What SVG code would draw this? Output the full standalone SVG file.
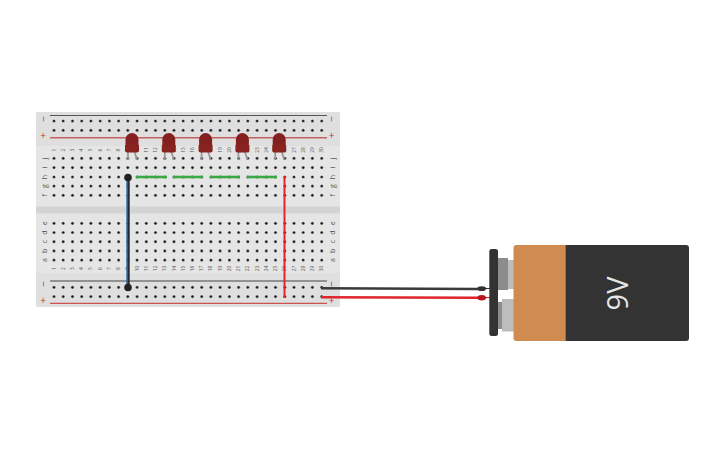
<svg xmlns="http://www.w3.org/2000/svg" xmlns:xlink="http://www.w3.org/1999/xlink" width="725" height="453" viewBox="0 0 725 453">
<style>
.lb{font-family:"Open Sans","Noto Sans",sans-serif;fill:#555;text-anchor:middle}
.n{font-size:4.8px}
.l{font-size:7px}
.s{font-size:10px}
.p{fill:#c9302c}
.h{fill:#222;stroke:#eeeeee;stroke-width:.4}
.leg{stroke:#999;stroke-width:1.8;fill:none}
.body{fill:#84201f}
.flange{fill:#88231f}
.g{stroke:#3aa845;stroke-width:2.6;fill:none}
</style>
<defs>
<g id="row"><circle cx="54" r="1.6"/><circle cx="63.2" r="1.6"/><circle cx="72.5" r="1.6"/><circle cx="81.7" r="1.6"/><circle cx="90.9" r="1.6"/><circle cx="100.2" r="1.6"/><circle cx="109.4" r="1.6"/><circle cx="118.6" r="1.6"/><circle cx="127.8" r="1.6"/><circle cx="137.1" r="1.6"/><circle cx="146.3" r="1.6"/><circle cx="155.5" r="1.6"/><circle cx="164.8" r="1.6"/><circle cx="174" r="1.6"/><circle cx="183.2" r="1.6"/><circle cx="192.5" r="1.6"/><circle cx="201.7" r="1.6"/><circle cx="210.9" r="1.6"/><circle cx="220.1" r="1.6"/><circle cx="229.4" r="1.6"/><circle cx="238.6" r="1.6"/><circle cx="247.8" r="1.6"/><circle cx="257.1" r="1.6"/><circle cx="266.3" r="1.6"/><circle cx="275.5" r="1.6"/><circle cx="284.8" r="1.6"/><circle cx="294" r="1.6"/><circle cx="303.2" r="1.6"/><circle cx="312.4" r="1.6"/><circle cx="321.7" r="1.6"/></g>
<g id="led">
<path class="leg" d="M-4 14V26.500M1 14L5 26.500"/>
<path class="body" d="M-6.500 12V6.500a6.500 6.500 0 0 1 13 0V12z"/>
<path class="flange" d="M-7 12H7V17.500a2 2 0 0 1-2 2H-5a2 2 0 0 1-2-2z"/>
</g>
</defs>
<rect width="725" height="453" fill="#fff"/>
<g id="breadboard">
<rect x="36" y="112" width="304" height="195" rx="2" fill="#e5e5e5"/>
<path d="M36 146V114a2 2 0 0 1 2-2H338a2 2 0 0 1 2 2V146z" fill="#dfdfdf"/>
<path d="M36 273V305a2 2 0 0 0 2 2H338a2 2 0 0 0 2-2V273z" fill="#dfdfdf"/>
<rect x="36" y="206.500" width="304" height="7" fill="#d4d4d4"/>
<path d="M50 115.500H327" stroke="#555" stroke-width="1.200"/>
<path d="M50 137.700H327" stroke="#c76060" stroke-width="1.500"/>
<path d="M50 281H327" stroke="#444" stroke-width="1"/>
<path d="M50 303.300H327" stroke="#c93030" stroke-width="1"/>
<g class="h">
<use xlink:href="#row" href="#row" y="121"/><use xlink:href="#row" href="#row" y="130.300"/>
<use xlink:href="#row" href="#row" y="158.300"/><use xlink:href="#row" href="#row" y="167.600"/><use xlink:href="#row" href="#row" y="177"/><use xlink:href="#row" href="#row" y="186.100"/><use xlink:href="#row" href="#row" y="195.300"/>
<use xlink:href="#row" href="#row" y="223.300"/><use xlink:href="#row" href="#row" y="232.500"/><use xlink:href="#row" href="#row" y="241.700"/><use xlink:href="#row" href="#row" y="250.900"/><use xlink:href="#row" href="#row" y="260.100"/>
<use xlink:href="#row" href="#row" y="287.300"/><use xlink:href="#row" href="#row" y="296.600"/>
</g>
<g class="lb s">
<text transform="translate(46.500,119) rotate(-90)">−</text>
<text x="43" y="138.500" style="fill:#c9302c">+</text>
<text transform="translate(335,119) rotate(-90)">−</text>
<text x="331.500" y="138.500" style="fill:#c9302c">+</text>
<text transform="translate(46.500,284) rotate(-90)">−</text>
<text x="43" y="303.500" style="fill:#c9302c">+</text>
<text transform="translate(335,284) rotate(-90)">−</text>
<text x="331.500" y="303.500" style="fill:#c9302c">+</text>
</g>
<g class="lb l">
<text transform="translate(47,158.300) rotate(-90)">j</text><text transform="translate(47,167.600) rotate(-90)">i</text><text transform="translate(47,177) rotate(-90)">h</text><text transform="translate(47,186.100) rotate(-90)">g</text><text transform="translate(47,195.300) rotate(-90)">f</text>
<text transform="translate(47,223.300) rotate(-90)">e</text><text transform="translate(47,232.500) rotate(-90)">d</text><text transform="translate(47,241.700) rotate(-90)">c</text><text transform="translate(47,250.900) rotate(-90)">b</text><text transform="translate(47,260.100) rotate(-90)">a</text>
<text transform="translate(334.500,158.300) rotate(-90)">j</text><text transform="translate(334.500,167.600) rotate(-90)">i</text><text transform="translate(334.500,177) rotate(-90)">h</text><text transform="translate(334.500,186.100) rotate(-90)">g</text><text transform="translate(334.500,195.300) rotate(-90)">f</text>
<text transform="translate(334.500,223.300) rotate(-90)">e</text><text transform="translate(334.500,232.500) rotate(-90)">d</text><text transform="translate(334.500,241.700) rotate(-90)">c</text><text transform="translate(334.500,250.900) rotate(-90)">b</text><text transform="translate(334.500,260.100) rotate(-90)">a</text>
</g>
<g class="lb n">
<text transform="translate(55.500,150) rotate(-90)">1</text><text transform="translate(64.700,150) rotate(-90)">2</text><text transform="translate(74,150) rotate(-90)">3</text><text transform="translate(83.200,150) rotate(-90)">4</text><text transform="translate(92.400,150) rotate(-90)">5</text><text transform="translate(101.700,150) rotate(-90)">6</text><text transform="translate(110.900,150) rotate(-90)">7</text><text transform="translate(120.100,150) rotate(-90)">8</text><text transform="translate(129.300,150) rotate(-90)">9</text><text transform="translate(138.600,150) rotate(-90)">10</text><text transform="translate(147.800,150) rotate(-90)">11</text><text transform="translate(157,150) rotate(-90)">12</text><text transform="translate(166.300,150) rotate(-90)">13</text><text transform="translate(175.500,150) rotate(-90)">14</text><text transform="translate(184.700,150) rotate(-90)">15</text><text transform="translate(194,150) rotate(-90)">16</text><text transform="translate(203.200,150) rotate(-90)">17</text><text transform="translate(212.400,150) rotate(-90)">18</text><text transform="translate(221.600,150) rotate(-90)">19</text><text transform="translate(230.900,150) rotate(-90)">20</text><text transform="translate(240.100,150) rotate(-90)">21</text><text transform="translate(249.300,150) rotate(-90)">22</text><text transform="translate(258.600,150) rotate(-90)">23</text><text transform="translate(267.800,150) rotate(-90)">24</text><text transform="translate(277,150) rotate(-90)">25</text><text transform="translate(286.300,150) rotate(-90)">26</text><text transform="translate(295.500,150) rotate(-90)">27</text><text transform="translate(304.700,150) rotate(-90)">28</text><text transform="translate(313.900,150) rotate(-90)">29</text><text transform="translate(323.200,150) rotate(-90)">30</text>
<text transform="translate(55.500,268.500) rotate(-90)">1</text><text transform="translate(64.700,268.500) rotate(-90)">2</text><text transform="translate(74,268.500) rotate(-90)">3</text><text transform="translate(83.200,268.500) rotate(-90)">4</text><text transform="translate(92.400,268.500) rotate(-90)">5</text><text transform="translate(101.700,268.500) rotate(-90)">6</text><text transform="translate(110.900,268.500) rotate(-90)">7</text><text transform="translate(120.100,268.500) rotate(-90)">8</text><text transform="translate(129.300,268.500) rotate(-90)">9</text><text transform="translate(138.600,268.500) rotate(-90)">10</text><text transform="translate(147.800,268.500) rotate(-90)">11</text><text transform="translate(157,268.500) rotate(-90)">12</text><text transform="translate(166.300,268.500) rotate(-90)">13</text><text transform="translate(175.500,268.500) rotate(-90)">14</text><text transform="translate(184.700,268.500) rotate(-90)">15</text><text transform="translate(194,268.500) rotate(-90)">16</text><text transform="translate(203.200,268.500) rotate(-90)">17</text><text transform="translate(212.400,268.500) rotate(-90)">18</text><text transform="translate(221.600,268.500) rotate(-90)">19</text><text transform="translate(230.900,268.500) rotate(-90)">20</text><text transform="translate(240.100,268.500) rotate(-90)">21</text><text transform="translate(249.300,268.500) rotate(-90)">22</text><text transform="translate(258.600,268.500) rotate(-90)">23</text><text transform="translate(267.800,268.500) rotate(-90)">24</text><text transform="translate(277,268.500) rotate(-90)">25</text><text transform="translate(286.300,268.500) rotate(-90)">26</text><text transform="translate(295.500,268.500) rotate(-90)">27</text><text transform="translate(304.700,268.500) rotate(-90)">28</text><text transform="translate(313.900,268.500) rotate(-90)">29</text><text transform="translate(323.200,268.500) rotate(-90)">30</text>
</g>
</g>
<g id="led1" transform="translate(132,133)"><use xlink:href="#led" href="#led"/></g>
<g id="led2" transform="translate(168.800,133)"><use xlink:href="#led" href="#led"/></g>
<g id="led3" transform="translate(205.600,133)"><use xlink:href="#led" href="#led"/></g>
<g id="led4" transform="translate(242.400,133)"><use xlink:href="#led" href="#led"/></g>
<g id="led5" transform="translate(279.200,133)"><use xlink:href="#led" href="#led"/></g>
<g id="connectors" fill="none">
<path class="g" d="M136 177H167"/><path class="g" d="M173 177H203"/><path class="g" d="M210 177H240"/><path class="g" d="M247 177H277"/>
<path d="M128 177V287.500" stroke="#2a6ca8" stroke-width="3.400"/>
<path d="M128.600 177V287.500" stroke="#1f2a36" stroke-width="1.600"/>
<circle cx="128" cy="177.500" r="3.800" fill="#222"/>
<circle cx="128" cy="287.500" r="3.800" fill="#222"/>
<path d="M284.500 176V298" stroke="#e8222a" stroke-width="2"/>
<path d="M321 288.200L478 289" stroke="#3a3a3a" stroke-width="2.400"/>
<path d="M321 297.200L478 297.800" stroke="#e0262c" stroke-width="2.400"/>
</g>
<g id="battery">
<rect x="498" y="258" width="10" height="32" fill="#8c8c8c"/>
<rect x="508" y="260" width="6" height="29" fill="#bdbdbd"/>
<rect x="498" y="302" width="4" height="27" fill="#8c8c8c"/>
<rect x="502" y="299" width="12" height="32.500" fill="#bdbdbd"/>
<path d="M484 288.500H490" stroke="#333" stroke-width="1"/>
<path d="M484 297.600H490" stroke="#b5191f" stroke-width="1"/>
<ellipse cx="481.700" cy="288.700" rx="4.300" ry="2.400" fill="#333"/>
<ellipse cx="481.700" cy="297.700" rx="4.300" ry="2.700" fill="#b5191f"/>
<rect x="489.300" y="249" width="8.700" height="87" rx="2.500" fill="#333"/>
<path d="M516.500 245H566V341H516.500a3 3 0 0 1-3-3V248a3 3 0 0 1 3-3z" fill="#d08c50"/>
<path d="M565.700 245H686a3 3 0 0 1 3 3V338a3 3 0 0 1-3 3H565.700z" fill="#333"/>
<text transform="translate(627.500,293.500) rotate(-90)" font-family="'Open Sans','Noto Sans',sans-serif" font-size="29" fill="#e6e6e6" text-anchor="middle">9V</text>
</g>
</svg>
